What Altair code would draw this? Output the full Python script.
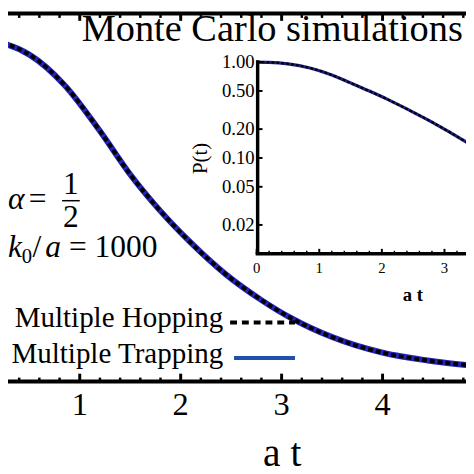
import altair as alt
import pandas as pd

# ---- data ----
t_vals = [0.0, 0.2, 0.5, 0.85, 1.2, 1.5, 1.8, 2.1, 2.45, 2.8, 3.1, 3.5, 4.0, 4.5, 4.85]
p_hopping = [1.000, 0.995, 0.960, 0.870, 0.735, 0.607, 0.499, 0.406, 0.312, 0.237, 0.183, 0.128, 0.082, 0.057, 0.045]
p_trapping = [1.000, 0.995, 0.960, 0.870, 0.735, 0.607, 0.499, 0.406, 0.312, 0.237, 0.183, 0.128, 0.082, 0.057, 0.045]

main_major = [1, 2, 3, 4]
main_minor = [0.2, 0.4, 0.6, 0.8, 1.2, 1.4, 1.6, 1.8, 2.2, 2.4, 2.6, 2.8,
              3.2, 3.4, 3.6, 3.8, 4.2, 4.4, 4.6, 4.8]
main_labels = ["1", "2", "3", "4"]

inset_x_major = [0, 1, 2, 3]
inset_x_minor = [0.2, 0.4, 0.6, 0.8, 1.2, 1.4, 1.6, 1.8, 2.2, 2.4, 2.6, 2.8, 3.2]
inset_x_labels = ["0", "1", "2", "3"]
inset_y_ticks = [1.0, 0.5, 0.2, 0.1, 0.05, 0.02]
inset_y_labels = ["1.00", "0.50", "0.20", "0.10", "0.05", "0.02"]

title_text = "Monte Carlo simulations"
legend_names = ["Multiple Hopping", "Multiple Trapping"]

SERIF = "Liberation Serif"

# ---- scales ----
xs_main = alt.Scale(domain=[0, 5], range=[-29.7, 483.8], nice=False, zero=False)
ys_main = alt.Scale(domain=[0, 1], range=[375, 29.55], nice=False, zero=False)
xs_in = alt.Scale(domain=[0, 3], range=[253, 444.1], nice=False, zero=False)
ys_in = alt.Scale(type="log", domain=[0.01, 1], range=[246, 51], nice=False)

curve = pd.DataFrame({"t": t_vals, "hop": p_hopping, "trap": p_trapping})
one = pd.DataFrame({"k": [0]})

layers = []

def txt(s, x, y, size, align="left", style="normal", weight="normal", baseline="alphabetic", angle=0):
    return alt.Chart(one).mark_text(font=SERIF, fontSize=size, fontStyle=style, fontWeight=weight,
                                    baseline=baseline, align=align, angle=angle, text=s).encode(
        x=alt.value(x), y=alt.value(y))

# main curves
layers.append(alt.Chart(curve).mark_line(color="#2424b8", strokeWidth=6, interpolate="monotone").encode(
    x=alt.X("t:Q", scale=xs_main, axis=None), y=alt.Y("trap:Q", scale=ys_main, axis=None)))
layers.append(alt.Chart(curve).mark_line(color="black", strokeWidth=4, strokeDash=[5, 3], interpolate="monotone").encode(
    x=alt.X("t:Q", scale=xs_main, axis=None), y=alt.Y("hop:Q", scale=ys_main, axis=None)))

# main bottom axis and top frame
layers.append(alt.Chart(one).mark_rule(color="black", strokeWidth=4).encode(
    x=alt.value(0), x2=alt.value(466), y=alt.value(376)))
layers.append(alt.Chart(one).mark_rule(color="black", strokeWidth=4).encode(
    x=alt.value(0), x2=alt.value(466), y=alt.value(1.5)))
maj = pd.DataFrame({"v": main_major, "lab": main_labels})
mnr = pd.DataFrame({"v": main_minor})
layers.append(alt.Chart(maj).mark_rule(color="black", strokeWidth=3).encode(
    x=alt.X("v:Q", scale=xs_main, axis=None), y=alt.value(376), y2=alt.value(368)))
layers.append(alt.Chart(mnr).mark_rule(color="black", strokeWidth=2.5).encode(
    x=alt.X("v:Q", scale=xs_main, axis=None), y=alt.value(376), y2=alt.value(372)))
layers.append(alt.Chart(maj).mark_rule(color="black", strokeWidth=3).encode(
    x=alt.X("v:Q", scale=xs_main, axis=None), y=alt.value(1), y2=alt.value(9)))
layers.append(alt.Chart(mnr).mark_rule(color="black", strokeWidth=2.5).encode(
    x=alt.X("v:Q", scale=xs_main, axis=None), y=alt.value(1), y2=alt.value(6)))
layers.append(alt.Chart(maj).mark_text(font=SERIF, fontSize=33, baseline="alphabetic", align="center").encode(
    x=alt.X("v:Q", scale=xs_main, axis=None), y=alt.value(410), text="lab:N"))
layers.append(txt("a t", 279, 462, 40, align="center"))

# title
layers.append(txt(title_text, 75, 30, 39))

# alpha = 1/2
layers.append(txt("α", 0, 200, 32, style="italic"))
layers.append(txt("=", 21, 200, 32))
layers.append(txt("1", 64, 185, 32, align="center"))
layers.append(alt.Chart(one).mark_rule(color="black", strokeWidth=1.5).encode(
    x=alt.value(55), x2=alt.value(73), y=alt.value(192)))
layers.append(txt("2", 64, 219, 32, align="center"))

# k0/a = 1000
layers.append(txt("k", 0, 249, 32, style="italic"))
layers.append(txt("0", 14, 255, 21))
layers.append(txt("/", 25, 249, 32))
layers.append(txt("a", 38, 249, 32, style="italic"))
layers.append(txt("= 1000", 62, 249, 32))

# legend
layers.append(txt(legend_names[0], 219, 321, 29.5, align="right"))
layers.append(txt(legend_names[1], 219, 357, 29.5, align="right"))
layers.append(alt.Chart(one).mark_rule(color="black", strokeWidth=4, strokeDash=[7, 5]).encode(
    x=alt.value(226), x2=alt.value(292), y=alt.value(316)))
layers.append(alt.Chart(one).mark_rule(color="#1f50aa", strokeWidth=4).encode(
    x=alt.value(230), x2=alt.value(292), y=alt.value(352)))

# inset
layers.append(alt.Chart(curve).mark_line(color="#22228c", strokeWidth=3.2, interpolate="monotone").encode(
    x=alt.X("t:Q", scale=xs_in, axis=None), y=alt.Y("trap:Q", scale=ys_in, axis=None)))
layers.append(alt.Chart(curve).mark_line(color="black", strokeWidth=2.2, strokeDash=[3, 2], interpolate="monotone").encode(
    x=alt.X("t:Q", scale=xs_in, axis=None), y=alt.Y("hop:Q", scale=ys_in, axis=None)))
layers.append(alt.Chart(one).mark_rule(color="black", strokeWidth=3.5).encode(
    x=alt.value(254), y=alt.value(49), y2=alt.value(247)))
layers.append(alt.Chart(one).mark_rule(color="black", strokeWidth=3.5).encode(
    x=alt.value(252), x2=alt.value(466), y=alt.value(246)))
iy = pd.DataFrame({"v": inset_y_ticks, "lab": inset_y_labels})
layers.append(alt.Chart(iy).mark_rule(color="black", strokeWidth=2).encode(
    y=alt.Y("v:Q", scale=ys_in, axis=None), x=alt.value(254), x2=alt.value(259)))
layers.append(alt.Chart(iy).mark_text(font=SERIF, fontSize=19, baseline="middle", align="right").encode(
    y=alt.Y("v:Q", scale=ys_in, axis=None), x=alt.value(251), text="lab:N"))
ixm = pd.DataFrame({"v": inset_x_major, "lab": inset_x_labels})
ixn = pd.DataFrame({"v": inset_x_minor})
layers.append(alt.Chart(ixm).mark_rule(color="black", strokeWidth=2).encode(
    x=alt.X("v:Q", scale=xs_in, axis=None), y=alt.value(246), y2=alt.value(241)))
layers.append(alt.Chart(ixn).mark_rule(color="black", strokeWidth=1.5).encode(
    x=alt.X("v:Q", scale=xs_in, axis=None), y=alt.value(246), y2=alt.value(243)))
layers.append(alt.Chart(ixm).mark_text(font=SERIF, fontSize=15, baseline="middle", align="center").encode(
    x=alt.X("v:Q", scale=xs_in, axis=None), y=alt.value(261), text="lab:N"))
layers.append(txt("P(t)", 196, 149, 21, align="center", baseline="middle", angle=270))
layers.append(txt("a t", 412, 288, 19, align="center", baseline="middle", weight="bold"))

chart = alt.layer(*layers).resolve_scale(x="independent", y="independent").properties(
    width=466, height=466, padding=0,
    autosize=alt.AutoSizeParams(type="none"),
    background="white",
).configure_view(stroke=None)

chart.save("out.html", embed_options={"renderer": "svg", "actions": False})
